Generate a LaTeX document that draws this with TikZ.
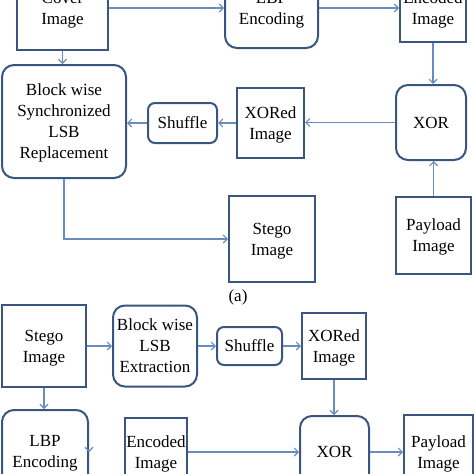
\documentclass[tikz,border=0pt]{standalone}
\usepackage{fontspec}
\setmainfont{Liberation Serif}
\usetikzlibrary{arrows.meta}
\definecolor{boxblue}{RGB}{58,86,128}
\definecolor{arrowblue}{RGB}{105,140,190}

\begin{document}
\begin{tikzpicture}[x=1pt,y=-1pt,>={Straight Barb[length=4pt,width=8pt]},
    font=\fontsize{17}{21}\selectfont,
    every node/.style={align=center,inner sep=0pt,text depth=0pt},
    imgbox/.style={draw=boxblue,line width=2pt},
    procbox/.style={draw=boxblue,line width=2pt,rounded corners=12pt},
    smallbox/.style={draw=boxblue,line width=2pt,rounded corners=7pt},
    flow/.style={->,draw=arrowblue,line width=1.1pt}]
    \clip (0,0) rectangle (474,474);
    % (a) embedding
    \node[imgbox,minimum width=91pt,minimum height=84pt] (cover) at (62.5,8) {Cover\\Image};
    \node[procbox,minimum width=93pt,minimum height=80pt] (lbp) at (271.5,8) {LBP\\Encoding};
    \node[imgbox,minimum width=66pt,minimum height=68pt] (enc) at (433,8) {Encoded\\Image};
    \node[procbox,minimum width=124pt,minimum height=113pt] (block) at (64,121.5) {Block wise\\Synchronized\\LSB\\Replacement};
    \node[smallbox,minimum width=69pt,minimum height=40pt] (shuf) at (182.5,123) {Shuffle};
    \node[imgbox,minimum width=67pt,minimum height=70pt] (xored) at (270.5,123) {XORed\\Image};
    \node[procbox,minimum width=70pt,minimum height=75pt] (xor) at (431,122.5) {XOR};
    \node[imgbox,minimum width=86pt,minimum height=86pt] (stego) at (272,239) {Stego\\Image};
    \node[imgbox,minimum width=75pt,minimum height=77pt] (payload) at (433.5,235.5) {Payload\\Image};
    \node (capa) at (238,296) {(a)};
    \draw[flow] (cover.east) -- (lbp.west);
    \draw[flow] (lbp.east) -- (enc.west);
    \draw[flow] (cover.south) -- (cover.south |- block.north);
    \draw[flow] (enc.south) -- (enc.south |- xor.north);
    \draw[flow] (xor.west) -- (xor.west -| xored.east);
    \draw[flow] (xored.west) -- (xored.west -| shuf.east);
    \draw[flow] (shuf.west) -- (shuf.west -| block.east);
    \draw[flow] (block.south) |- (stego.west);
    \draw[flow] (payload.north) -- (payload.north |- xor.south);
    % (b) extraction
    \node[imgbox,minimum width=84pt,minimum height=82pt] (stegob) at (44,346) {Stego\\Image};
    \node[procbox,minimum width=84pt,minimum height=81pt] (extract) at (155,346) {Block wise\\LSB\\Extraction};
    \node[smallbox,minimum width=65pt,minimum height=38pt] (shufb) at (249.5,346) {Shuffle};
    \node[imgbox,minimum width=64pt,minimum height=66pt] (xoredb) at (334,346) {XORed\\Image};
    \node[procbox,minimum width=86pt,minimum height=83pt] (lbpb) at (45,451.5) {LBP\\Encoding};
    \node[imgbox,minimum width=62pt,minimum height=68pt] (encb) at (156,452) {Encoded\\Image};
    \node[procbox,minimum width=69pt,minimum height=72pt] (xorb) at (334.5,452) {XOR};
    \node[imgbox,minimum width=69pt,minimum height=74pt] (payloadb) at (438.5,452) {Payload\\Image};
    \draw[flow] (stegob.east) -- (extract.west);
    \draw[flow] (extract.east) -- (extract.east -| shufb.west);
    \draw[flow] (shufb.east) -- (xoredb.west);
    \draw[flow] (stegob.south) -- (stegob.south |- lbpb.north);
    \draw[flow] (xoredb.south) -- (xoredb.south |- xorb.north);
    \draw[flow] (lbpb.east) -- (lbpb.east |- encb.west);
    \draw[flow] (encb.east) -- (xorb.west);
    \draw[flow] (xorb.east) -- (payloadb.west);
\end{tikzpicture}
\end{document}
